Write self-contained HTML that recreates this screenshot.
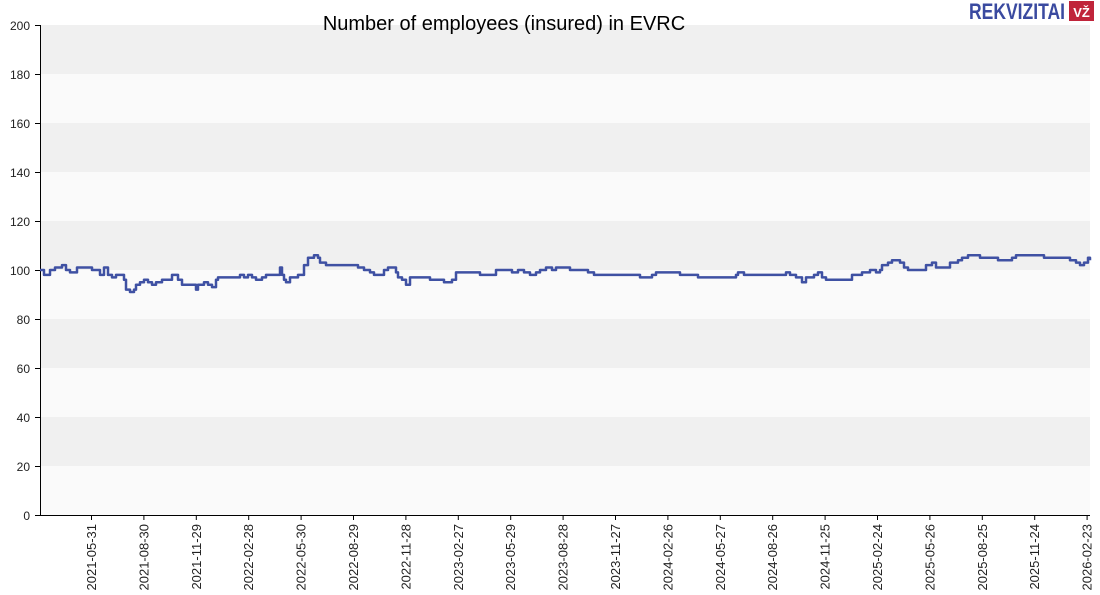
<!DOCTYPE html>
<html><head><meta charset="utf-8"><style>
body{margin:0;background:#fff;width:1100px;height:590px;overflow:hidden;font-family:"Liberation Sans",sans-serif}
</style></head><body>
<svg width="1100" height="590" viewBox="0 0 1100 590" xmlns="http://www.w3.org/2000/svg" font-family="Liberation Sans, sans-serif">
<rect width="1100" height="590" fill="#fff"/>
<g>
<rect x="40" y="25" width="1050" height="49" fill="#f0f0f0"/>
<rect x="40" y="74" width="1050" height="49" fill="#fafafa"/>
<rect x="40" y="123" width="1050" height="49" fill="#f0f0f0"/>
<rect x="40" y="172" width="1050" height="49" fill="#fafafa"/>
<rect x="40" y="221" width="1050" height="49" fill="#f0f0f0"/>
<rect x="40" y="270" width="1050" height="49" fill="#fafafa"/>
<rect x="40" y="319" width="1050" height="49" fill="#f0f0f0"/>
<rect x="40" y="368" width="1050" height="49" fill="#fafafa"/>
<rect x="40" y="417" width="1050" height="49" fill="#f0f0f0"/>
<rect x="40" y="466" width="1050" height="49" fill="#fafafa"/>
</g>
<g stroke="#000" stroke-width="1">
<line x1="40.5" y1="25" x2="40.5" y2="515"/>
<line x1="35" y1="515.5" x2="1090" y2="515.5"/>
<line x1="35" y1="25.5" x2="40" y2="25.5"/><line x1="35" y1="74.5" x2="40" y2="74.5"/><line x1="35" y1="123.5" x2="40" y2="123.5"/><line x1="35" y1="172.5" x2="40" y2="172.5"/><line x1="35" y1="221.5" x2="40" y2="221.5"/><line x1="35" y1="270.5" x2="40" y2="270.5"/><line x1="35" y1="319.5" x2="40" y2="319.5"/><line x1="35" y1="368.5" x2="40" y2="368.5"/><line x1="35" y1="417.5" x2="40" y2="417.5"/><line x1="35" y1="466.5" x2="40" y2="466.5"/>
</g>
<g font-size="12" fill="#222" text-anchor="end">
<text x="30" y="30">200</text><text x="30" y="79">180</text><text x="30" y="128">160</text><text x="30" y="177">140</text><text x="30" y="226">120</text><text x="30" y="275">100</text><text x="30" y="324">80</text><text x="30" y="373">60</text><text x="30" y="422">40</text><text x="30" y="471">20</text><text x="30" y="520">0</text>
</g>
<g id="xt" font-size="13" fill="#222"></g>
<text x="504" y="30" font-size="20" text-anchor="middle" fill="#000">Number of employees (insured) in EVRC</text>
<text x="969" y="19" font-size="22" font-weight="bold" fill="#3a4aa0" textLength="96" lengthAdjust="spacingAndGlyphs" font-family="Liberation Sans Narrow, Liberation Sans, sans-serif">REKVIZITAI</text>
<rect x="1069" y="1" width="25" height="20" fill="#c0243a"/>
<text x="1081.5" y="17" font-size="13" font-weight="bold" fill="#fff" text-anchor="middle">VŽ</text>
<path id="ln" fill="none" stroke="#3f51a3" stroke-width="2.5" stroke-linejoin="round"/>
</svg>
<script>
var d=[40,100,44,98,48,98,50,100,55,101,60,101,62,102,66,100,70,99,76,99,77,101,90,101,92,100,98,100,100,98,104,101,108,98,112,97,116,98,122,98,124,96,126,92,130,91,134,92,136,94,140,95,144,96,148,95,152,94,156,95,162,96,170,96,172,98,176,98,178,96,182,94,186,94,194,94,196,92,198,94,204,95,208,94,212,93,216,96,218,97,236,97,240,98,244,97,248,98,252,97,256,96,262,97,266,98,278,98,280,101,282,98,284,96,286,95,290,97,294,97,298,98,302,98,304,102,308,105,314,106,318,105,320,103,326,102,356,102,358,101,364,100,370,99,374,98,380,98,384,100,388,101,392,101,396,99,398,97,402,96,406,94,410,97,428,97,430,96,440,96,444,95,448,95,452,96,456,99,470,99,480,98,494,98,496,100,508,100,512,99,518,100,524,99,530,98,536,99,540,100,546,101,552,100,556,101,568,101,570,100,580,100,588,99,594,98,636,98,640,97,648,97,652,98,656,99,676,99,680,98,696,98,698,97,732,97,736,98,738,99,744,98,782,98,786,99,790,98,796,97,802,95,806,97,814,98,818,99,822,97,826,96,850,96,852,98,858,98,862,99,870,100,876,99,880,100,882,102,888,103,892,104,900,103,904,101,908,100,920,100,926,102,932,103,936,101,944,101,950,103,958,104,962,105,968,106,976,106,980,105,996,105,998,104,1008,104,1012,105,1016,106,1040,106,1044,105,1066,105,1070,104,1076,103,1080,102,1084,103,1088,105,1090,104];
var p="";for(var i=0;i<d.length;i+=2){var x=d[i],y=(515-d[i+1]*2.45).toFixed(1);if(i){p+="H"+x+" ";}p+=(i?"V":"M"+x+" ")+y+" ";}
document.getElementById("ln").setAttribute("d",p);
var labs=["2021-05-31","2021-08-30","2021-11-29","2022-02-28","2022-05-30","2022-08-29","2022-11-28","2023-02-27","2023-05-29","2023-08-28","2023-11-27","2024-02-26","2024-05-27","2024-08-26","2024-11-25","2025-02-24","2025-05-26","2025-08-25","2025-11-24","2026-02-23"];
var g=document.getElementById("xt"),ns="http://www.w3.org/2000/svg";
labs.forEach(function(l,i){var x=91.5+i*52.4;
var t=document.createElementNS(ns,"line");t.setAttribute("x1",x);t.setAttribute("x2",x);t.setAttribute("y1",515);t.setAttribute("y2",520);t.setAttribute("stroke","#000");g.appendChild(t);
var s=document.createElementNS(ns,"text");s.setAttribute("transform","translate("+(x+4.5)+",524) rotate(-90)");s.setAttribute("text-anchor","end");s.textContent=l;g.appendChild(s);});
</script>
</body></html>
